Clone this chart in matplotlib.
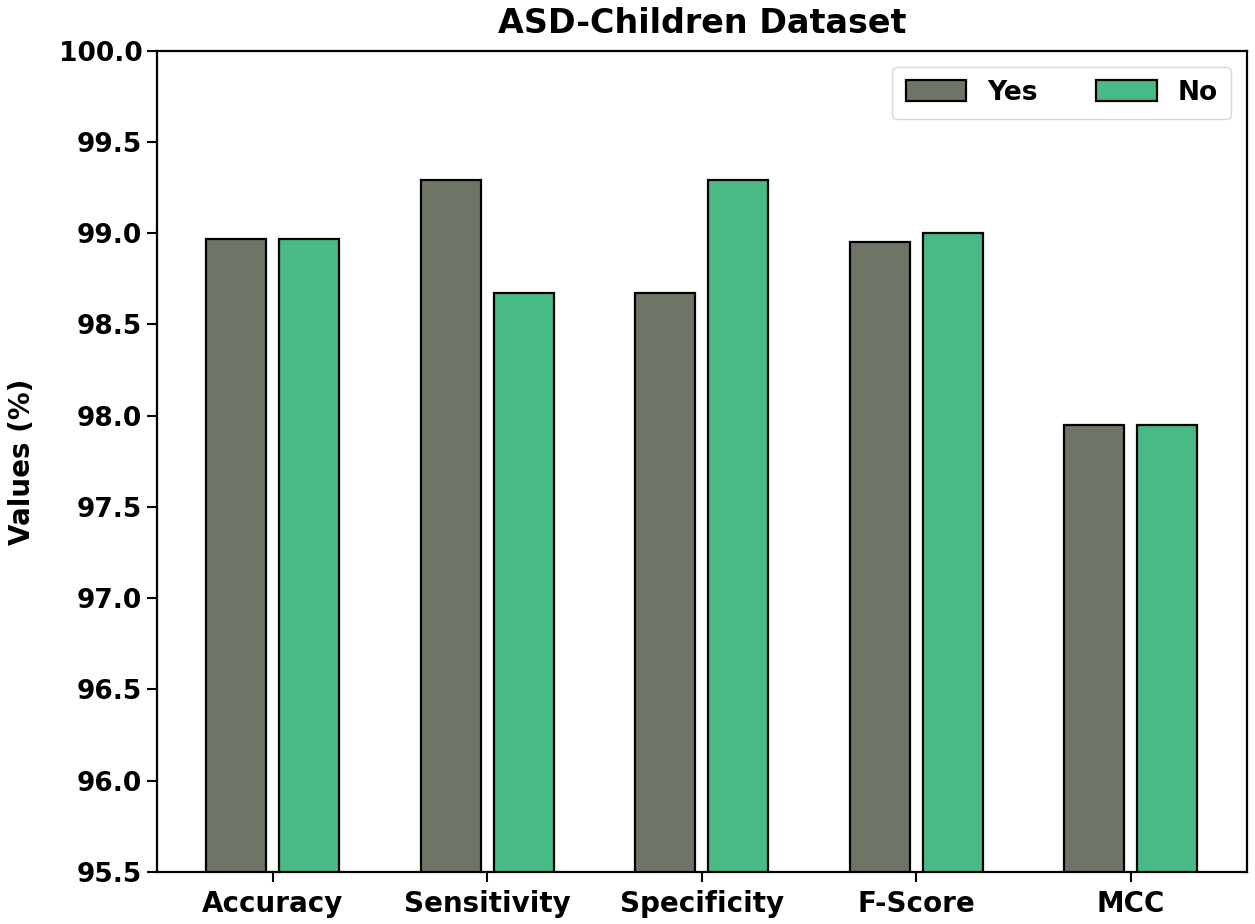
import numpy as np
import matplotlib
matplotlib.use('Agg')
import matplotlib.pyplot as plt

metrics = ['Accuracy', 'Sensitivity', 'Specificity', 'F-Score', 'MCC']
yes_vals = [98.97, 99.29, 98.67, 98.95, 97.95]
no_vals = [98.97, 98.67, 99.29, 99.00, 97.95]
yticks = [95.5, 96.0, 96.5, 97.0, 97.5, 98.0, 98.5, 99.0, 99.5, 100.0]

plt.rcParams['font.family'] = 'DejaVu Sans'
plt.rcParams['font.weight'] = 'bold'

fig = plt.figure(figsize=(12.55, 9.24), dpi=100)
ax = fig.add_axes([0.125, 0.0563, 0.8686, 0.8888])

x = np.arange(len(metrics))
w = 0.28
ax.bar(x - 0.17, yes_vals, w, color='#6e7566', edgecolor='black', linewidth=1.6, label='Yes')
ax.bar(x + 0.17, no_vals, w, color='#48ba85', edgecolor='black', linewidth=1.6, label='No')

ax.set_ylim(95.5, 100.0)
ax.set_yticks(yticks)
ax.set_yticklabels([f'{v:.1f}' for v in yticks])
ax.set_xticks(x)
ax.set_xticklabels(metrics)
ax.tick_params(axis='y', labelsize=19, length=7, width=1.5)
ax.tick_params(axis='x', labelsize=20, length=7, width=1.5, pad=6)
for s in ax.spines.values():
    s.set_linewidth(1.6)

ax.set_ylabel('Values (%)', fontsize=20, fontweight='bold', labelpad=16)
ax.set_title('ASD-Children Dataset', fontsize=24, fontweight='bold', pad=13)
ax.legend(loc='upper right', ncol=2, prop={'weight': 'bold', 'size': 19},
          handlelength=2.3, handleheight=0.85, columnspacing=2.2,
          borderaxespad=0.6, borderpad=0.5)

fig.savefig('out.png', dpi=100)
